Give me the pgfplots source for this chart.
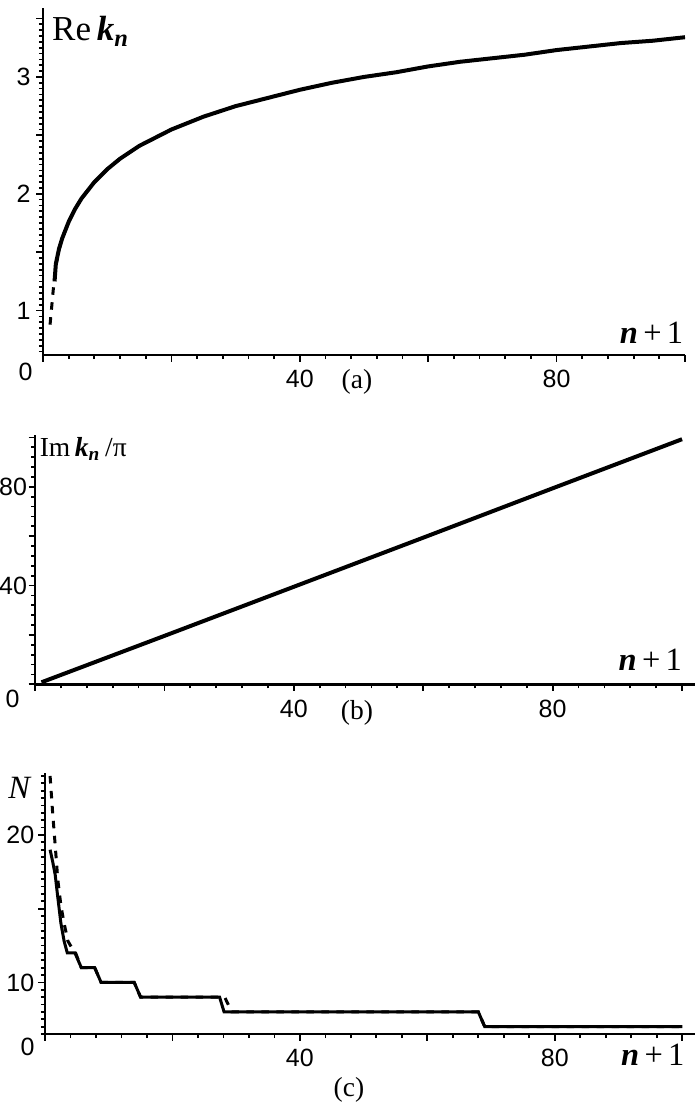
\documentclass[border=0pt]{standalone}
\usepackage{fontspec}
\setmainfont{Liberation Serif}
\setsansfont{Liberation Sans}
\usepackage{pgfplots}
\pgfplotsset{compat=1.18}

% 1 px of the reference = 0.4pt
\pgfplotsset{
  maple/.style={
    scale only axis,
    axis lines=left,
    axis line style={-, line width=1pt},
    tick align=outside,
    major tick length=2.6pt,
    minor tick length=1.6pt,
    every tick/.style={black, line width=0.7pt},
    tick label style={font=\fontsize{10}{12}\sffamily},
    /pgf/number format/assume math mode=true,
    clip=false,
    xmin=0,
    xtick={0,20,...,100},
    xticklabels={,,40,,80,},
    minor x tick num=4,
  },
}

\begin{document}
\begin{tikzpicture}
\useasboundingbox (0,0) rectangle (280pt,-442.8pt);

% (a) Re k_n
\begin{axis}[maple,
  at={(17.2pt,-142pt)}, anchor=south west,
  width=256.8pt, height=138.8pt,
  xmax=100, ymin=0.62, ymax=3.59,
  ytick={0.5,1,...,3.5},
  yticklabels={,1,,2,,3,},
  minor y tick num=9,
  yticklabel style={inner xsep=2.2pt},
]
\addplot[black, line width=1.6pt] coordinates {
  (1.8,1.25)(2,1.40)(2.5,1.53)(3,1.62)(4,1.76)(5,1.87)(6,1.96)(8,2.10)
  (10,2.21)(12,2.30)(15,2.41)(20,2.55)(25,2.66)(30,2.75)(35,2.82)
  (40,2.89)(45,2.95)(50,3.00)(55,3.04)(60,3.09)(65,3.13)(70,3.16)
  (75,3.19)(80,3.23)(85,3.26)(90,3.29)(95,3.31)(100,3.34)
};
\addplot[black, line width=1.2pt, dashed] coordinates {
  (1.1,0.88)(1.3,1.00)(1.6,1.18)(2,1.38)(2.5,1.52)(3,1.62)(4,1.76)
  (5,1.87)(6,1.96)(8,2.10)(10,2.21)(12,2.30)(15,2.41)(20,2.55)
};
\end{axis}

% (b) Im k_n / pi
\begin{axis}[maple,
  at={(14pt,-273.7pt)}, anchor=south west,
  width=264pt, height=99.7pt,
  xmax=102, ymin=0, ymax=101,
  ytick={0,20,...,100},
  yticklabels={,,40,,80,},
  minor y tick num=4,
  yticklabel style={inner xsep=0.4pt},
]
\addplot[black, line width=1.6pt] coordinates {
  (1,0.8)(20,19.6)(40,39.5)(60,59.4)(80,79.4)(100,99.3)
};
\end{axis}

% (c) N
\begin{axis}[maple,
  at={(18pt,-413.6pt)}, anchor=south west,
  width=260pt, height=104.4pt,
  xmax=102, ymin=6.5, ymax=24.2,
  ytick={5,10,...,25},
  yticklabels={,10,,20,},
  minor y tick num=9,
  yticklabel style={inner xsep=1.5pt},
]
\addplot[black, line width=1.2pt] coordinates {
  (0.8,19)(1.2,18.2)(1.6,17.3)(2,15.8)(2.5,14)(3,12.8)(3.5,12)(4.7,12)
  (5.7,11)(7.8,11)(8.8,10)(14,10)(15,9)(27.4,9)(28.1,8)(68,8)(69,7)(100,7)
};
\addplot[black, line width=1.2pt, dashed] coordinates {
  (0.8,24)(1.2,21.5)(1.6,19.3)(2,17)(2.5,15.2)(3,14)(3.6,12.8)(4.4,12.2)
  (4.8,12)(5.7,11)(7.8,11)(8.8,10)(14,10)(15,9)(28.2,9)(29.3,8)(68,8)(69,7)(100,7)
};
\end{axis}

% axis titles and captions
\node[anchor=base west, inner sep=0, font=\fontsize{14}{16}\selectfont]
  at (20.7pt,-16.3pt) {Re\,\textbf{\textit{k}}\textsubscript{\textbf{\textit{n}}}};
\node[anchor=base east, inner sep=0, font=\fontsize{13}{15}\selectfont]
  at (273.5pt,-137.3pt) {\textbf{\textit{n}}\,+\,1};
\node[font=\fontsize{11}{13}\selectfont, inner sep=0] at (142.8pt,-152.8pt) {(a)};

\node[anchor=base west, inner sep=0, font=\fontsize{11}{13}\selectfont]
  at (15.7pt,-182.4pt) {Im\,\textbf{\textit{k}}\textsubscript{\textbf{\textit{n}}}\,/π};
\node[anchor=base east, inner sep=0, font=\fontsize{13}{15}\selectfont]
  at (273pt,-268pt) {\textbf{\textit{n}}\,+\,1};
\node[font=\fontsize{11}{13}\selectfont, inner sep=0] at (142.8pt,-285pt) {(b)};

\node[anchor=base west, inner sep=0, font=\fontsize{13}{15}\selectfont]
  at (3.2pt,-319.5pt) {\textit{N}};
\node[anchor=base east, inner sep=0, font=\fontsize{13}{15}\selectfont]
  at (274pt,-426pt) {\textbf{\textit{n}}\,+\,1};
\node[font=\fontsize{11}{13}\selectfont, inner sep=0] at (139.6pt,-436pt) {(c)};

% origin labels
\node[anchor=north east, inner sep=0, font=\fontsize{10}{12}\sffamily] at (13.2pt,-145pt) {0};
\node[anchor=north east, inner sep=0, font=\fontsize{10}{12}\sffamily] at (8pt,-276pt) {0};
\node[anchor=north east, inner sep=0, font=\fontsize{10}{12}\sffamily] at (14pt,-415pt) {0};
\end{tikzpicture}
\end{document}
